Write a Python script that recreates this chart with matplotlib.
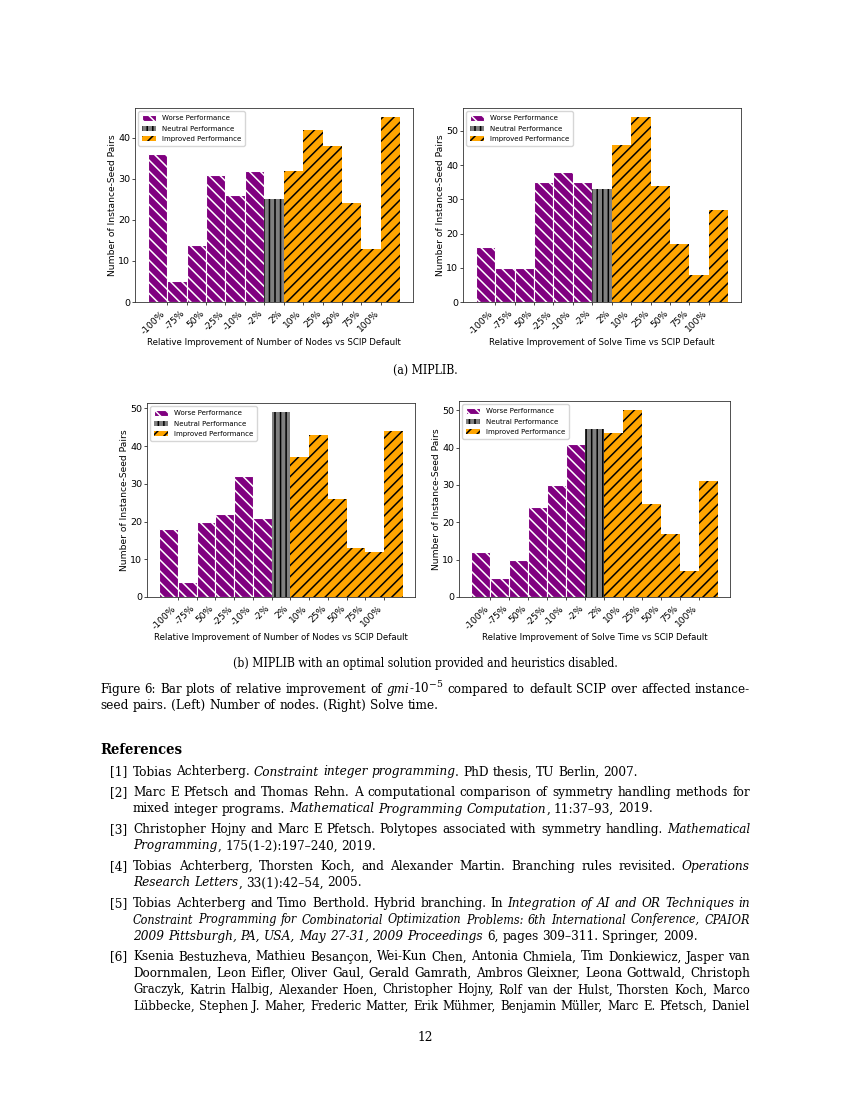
import matplotlib
matplotlib.use('Agg')
import matplotlib.pyplot as plt

plt.rcParams['hatch.linewidth'] = 1.1
plt.rcParams['mathtext.fontset'] = 'dejavuserif'

W, H = 850, 1100
fig = plt.figure(figsize=(8.5, 11), dpi=100)

# ---------------- data ----------------
tick_labels = ['-100%', '-75%', '50%', '-25%', '-10%', '-2%', '2%', '10%', '25%', '50%', '75%', '100%']
miplib_nodes = [36, 5, 14, 31, 26, 32, 25, 32, 42, 38, 24, 13, 45]
miplib_time = [16, 10, 10, 35, 38, 35, 33, 46, 54, 34, 17, 8, 27]
opt_nodes = [18, 4, 20, 22, 32, 21, 49, 37, 43, 26, 13, 12, 44]
opt_time = [12, 5, 10, 24, 30, 41, 45, 44, 50, 25, 17, 7, 31]
n_worse = 6
n_neutral = 1
xlabel_nodes = 'Relative Improvement of Number of Nodes vs SCIP Default'
xlabel_time = 'Relative Improvement of Solve Time vs SCIP Default'
ylabel = 'Number of Instance-Seed Pairs'
legend_labels = ['Worse Performance', 'Neutral Performance', 'Improved Performance']

SANS = 'DejaVu Sans'
SERIF = 'DejaVu Serif'


def add_ax(x0, y0, x1, y1):
    return fig.add_axes([x0 / W, 1 - y1 / H, (x1 - x0) / W, (y1 - y0) / H])


def draw_chart(ax, vals, xlabel):
    n = len(vals)
    pos = list(range(n))
    a, b = n_worse, n_worse + n_neutral
    ax.bar(pos[:a], vals[:a], width=1.0, color='purple', edgecolor='white',
           hatch='\\\\\\', linewidth=0.8, label=legend_labels[0])
    ax.bar(pos[a:b], vals[a:b], width=1.0, color='gray', edgecolor='black',
           hatch='|||', linewidth=0, label=legend_labels[1])
    ax.bar(pos[b:], vals[b:], width=1.0, color='orange', edgecolor='black',
           hatch='///', linewidth=0, label=legend_labels[2])
    ax.set_xticks([i + 0.5 for i in range(len(tick_labels))])
    ax.set_xticklabels(tick_labels, rotation=45, ha='right', fontsize=6.6, family=SANS)
    ax.tick_params(axis='y', labelsize=6.8, pad=1.5)
    ax.tick_params(axis='x', pad=3)
    ax.tick_params(length=2, width=0.5)
    for s in ax.spines.values():
        s.set_linewidth(0.6)
        s.set_color('#333333')
    ax.set_xlabel(xlabel, fontsize=6.2, family=SANS, labelpad=1.5)
    ax.set_ylabel(ylabel, fontsize=6.6, family=SANS, labelpad=0.5)
    ax.legend(loc='upper left', fontsize=5.0, frameon=True, borderpad=0.55,
              labelspacing=0.6, handlelength=2.0, handleheight=0.8,
              borderaxespad=0.5, fancybox=True, framealpha=0.8)


ax1 = add_ax(135, 108, 413, 302)
draw_chart(ax1, miplib_nodes, xlabel_nodes)
ax2 = add_ax(463, 108, 741, 302)
draw_chart(ax2, miplib_time, xlabel_time)
ax3 = add_ax(147, 403, 415, 597)
draw_chart(ax3, opt_nodes, xlabel_nodes)
ax4 = add_ax(459, 401, 730, 597)
draw_chart(ax4, opt_time, xlabel_time)

# ---------------- page text ----------------
renderer = fig.canvas.get_renderer()
STRETCH = 'normal'


def measure(s, size, italic=False, weight='normal', stretch=None):
    t = fig.text(0, 0, s, fontsize=size, style='italic' if italic else 'normal',
                 weight=weight, family=SERIF, stretch=stretch or STRETCH)
    w = t.get_window_extent(renderer).width
    t.remove()
    return w


# use the condensed serif face if it is installed (closer to the original's metrics)
if measure('Doornmalen Gleixner', 10, stretch='condensed') < 0.95 * measure('Doornmalen Gleixner', 10, stretch='normal'):
    STRETCH = 'condensed'


def parse(line):
    words = []
    ital = False
    for tok in line.split(' '):
        if tok == '':
            continue
        pieces = []
        parts = tok.split('*')
        for i, p in enumerate(parts):
            if i > 0:
                ital = not ital
            if p:
                pieces.append((p, ital))
        words.append(pieces)
    return words


def space_w(size):
    return measure('a a', size) - measure('aa', size)


def natural_width(line, size):
    words = parse(line)
    tot = sum(measure(p, size, it) for w in words for p, it in w)
    return tot + space_w(size) * (len(words) - 1)


def put(x, ybase, s, size, italic=False, weight='normal', ha='left'):
    fig.text(x / W, 1 - ybase / H, s, fontsize=size,
             style='italic' if italic else 'normal', weight=weight,
             family=SERIF, stretch=STRETCH, va='baseline', ha=ha)


def draw_line(line, x0, x1, ybase, size, justify):
    if justify:
        nat = natural_width(line, size)
        if nat > (x1 - x0) * 0.99:
            size = size * (x1 - x0) * 0.985 / nat
    words = parse(line)
    widths = [[measure(p, size, it) for p, it in w] for w in words]
    tot = sum(sum(w) for w in widths)
    if justify and len(words) > 1:
        gap = (x1 - x0 - tot) / (len(words) - 1)
    else:
        gap = space_w(size)
    x = x0
    for w, ws in zip(words, widths):
        for (p, it), pw in zip(w, ws):
            put(x, ybase, p, size, it)
            x += pw
        x += gap


caption_a = '(a) MIPLIB.'
caption_b = '(b) MIPLIB with an optimal solution provided and heuristics disabled.'
fig6 = ['Figure 6: Bar plots of relative improvement of *gmi*-10$^{-5}$ compared to default SCIP over affected instance-',
        'seed pairs. (Left) Number of nodes. (Right) Solve time.']
refs = [
    ['Tobias Achterberg. *Constraint integer programming*. PhD thesis, TU Berlin, 2007.'],
    ['Marc E Pfetsch and Thomas Rehn. A computational comparison of symmetry handling methods for',
     'mixed integer programs. *Mathematical Programming Computation*, 11:37\u201393, 2019.'],
    ['Christopher Hojny and Marc E Pfetsch. Polytopes associated with symmetry handling. *Mathematical*',
     '*Programming*, 175(1-2):197\u2013240, 2019.'],
    ['Tobias Achterberg, Thorsten Koch, and Alexander Martin. Branching rules revisited. *Operations*',
     '*Research Letters*, 33(1):42\u201354, 2005.'],
    ['Tobias Achterberg and Timo Berthold. Hybrid branching. In *Integration of AI and OR Techniques in*',
     '*Constraint Programming for Combinatorial Optimization Problems: 6th International Conference, CPAIOR*',
     '*2009 Pittsburgh, PA, USA, May 27-31, 2009 Proceedings* 6, pages 309\u2013311. Springer, 2009.'],
    ['Ksenia Bestuzheva, Mathieu Besan\u00e7on, Wei-Kun Chen, Antonia Chmiela, Tim Donkiewicz, Jasper van',
     'Doornmalen, Leon Eifler, Oliver Gaul, Gerald Gamrath, Ambros Gleixner, Leona Gottwald, Christoph',
     'Graczyk, Katrin Halbig, Alexander Hoen, Christopher Hojny, Rolf van der Hulst, Thorsten Koch, Marco',
     'L\u00fcbbecke, Stephen J. Maher, Frederic Matter, Erik M\u00fchmer, Benjamin M\u00fcller, Marc E. Pfetsch, Daniel'],
]

L, R = 100, 750
RL = 133
# body size: the unjustified caption line spans about 337 px in the original
BODY = 10.0 * 337.0 / natural_width(fig6[1], 10.0)
# sub-captions are set a little smaller: caption (b) spans about 384 px
SUB = 10.0 * 384.0 / measure(caption_b, 10.0)

put(425, 374, caption_a, SUB, ha='center')
put(425, 667, caption_b, SUB, ha='center')
draw_line(fig6[0], L, R, 693, BODY, True)
draw_line(fig6[1], L, R, 709, BODY, False)

head = 'References'
hsize = 10.0 * 82.0 / measure(head, 10.0, weight='bold')
put(L, 754, head, hsize, weight='bold')

entry_base = [775.5, 796, 833, 870, 907, 960.5]
line_step = 16.5
for k, entry in enumerate(refs):
    y0 = entry_base[k]
    put(127, y0, '[%d]' % (k + 1), BODY, ha='right')
    for i, ln in enumerate(entry):
        just = (i < len(entry) - 1) or (k == len(refs) - 1)
        draw_line(ln, RL, R, y0 + i * line_step, BODY, just)

put(425, 1041, '12', BODY, ha='center')

fig.savefig('out.png', dpi=100)
